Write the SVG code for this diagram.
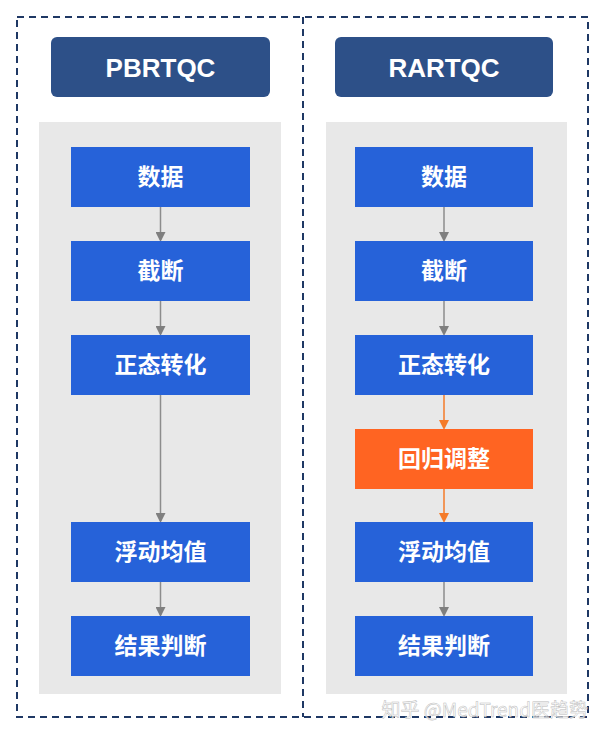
<svg xmlns="http://www.w3.org/2000/svg" width="600" height="735" viewBox="0 0 600 735">
<defs>
<style>
.frame{fill:none;stroke:#1F3864;stroke-width:2;stroke-dasharray:7,5}
.hdr{fill:#2D5088}
.hdrt{fill:#fff;font-family:"Liberation Sans",Arial,sans-serif;font-weight:bold;font-size:26px;text-anchor:middle}
.panel{fill:#E8E8E8}
.box{fill:#2662D9}
.obox{fill:#FF6422}
.bt{fill:#fff;font-family:"Noto Sans CJK SC","Liberation Sans",sans-serif;font-weight:bold;font-size:23px;text-anchor:middle}
.ln{stroke:#8C8C8C;stroke-width:1.5;fill:none}
.lo{stroke:#F47B2A;stroke-width:1.5;fill:none}
.wm{fill:#fff;fill-opacity:0.75;font-family:"Noto Sans CJK SC","Liberation Sans",sans-serif;font-size:19px;stroke:#bbb;stroke-width:0.5}
</style>
<marker id="ag" markerWidth="10" markerHeight="10" refX="8" refY="5" orient="auto" markerUnits="userSpaceOnUse"><path d="M0,0 L10,5 L0,10 z" fill="#7F7F7F"/></marker>
<marker id="ao" markerWidth="10" markerHeight="10" refX="8" refY="5" orient="auto" markerUnits="userSpaceOnUse"><path d="M0,0 L10,5 L0,10 z" fill="#F47B2A"/></marker>
</defs>
<rect width="600" height="735" fill="#fff"/>
<g id="frames">
<rect class="frame" x="17" y="17" width="571" height="700"/>
<line class="frame" x1="303" y1="17" x2="303" y2="717"/>
</g>
<g id="panels">
<rect class="panel" x="39" y="122" width="242" height="572"/>
<rect class="panel" x="326" y="122" width="241" height="572"/>
</g>
<g id="connectors">
<line class="ln" x1="160.5" y1="207" x2="160.5" y2="240" marker-end="url(#ag)"/>
<line class="ln" x1="160.5" y1="301" x2="160.5" y2="334" marker-end="url(#ag)"/>
<line class="ln" x1="160.5" y1="395" x2="160.5" y2="521" marker-end="url(#ag)"/>
<line class="ln" x1="160.5" y1="582" x2="160.5" y2="615" marker-end="url(#ag)"/>
<line class="ln" x1="444" y1="207" x2="444" y2="240" marker-end="url(#ag)"/>
<line class="ln" x1="444" y1="301" x2="444" y2="334" marker-end="url(#ag)"/>
<line class="lo" x1="444" y1="395" x2="444" y2="428" marker-end="url(#ao)"/>
<line class="lo" x1="444" y1="489" x2="444" y2="521" marker-end="url(#ao)"/>
<line class="ln" x1="444" y1="582" x2="444" y2="615" marker-end="url(#ag)"/>
</g>
<g id="hdr-left"><rect class="hdr" x="51" y="37" width="219" height="60" rx="6"/><text class="hdrt" x="160.5" y="77">PBRTQC</text></g>
<g id="hdr-right"><rect class="hdr" x="335" y="37" width="218" height="60" rx="6"/><text class="hdrt" x="444" y="77">RARTQC</text></g>
<g id="l-data"><rect class="box" x="71" y="147" width="179" height="60"/><text class="bt" x="160.5" y="185">数据</text></g>
<g id="l-trunc"><rect class="box" x="71" y="241" width="179" height="60"/><text class="bt" x="160.5" y="279">截断</text></g>
<g id="l-norm"><rect class="box" x="71" y="335" width="179" height="60"/><text class="bt" x="160.5" y="373">正态转化</text></g>
<g id="l-ma"><rect class="box" x="71" y="522" width="179" height="60"/><text class="bt" x="160.5" y="560">浮动均值</text></g>
<g id="l-res"><rect class="box" x="71" y="616" width="179" height="60"/><text class="bt" x="160.5" y="654">结果判断</text></g>
<g id="r-data"><rect class="box" x="355" y="147" width="178" height="60"/><text class="bt" x="444" y="185">数据</text></g>
<g id="r-trunc"><rect class="box" x="355" y="241" width="178" height="60"/><text class="bt" x="444" y="279">截断</text></g>
<g id="r-norm"><rect class="box" x="355" y="335" width="178" height="60"/><text class="bt" x="444" y="373">正态转化</text></g>
<g id="r-reg"><rect class="obox" x="355" y="429" width="178" height="60"/><text class="bt" x="444" y="467">回归调整</text></g>
<g id="r-ma"><rect class="box" x="355" y="522" width="178" height="60"/><text class="bt" x="444" y="560">浮动均值</text></g>
<g id="r-res"><rect class="box" x="355" y="616" width="178" height="60"/><text class="bt" x="444" y="654">结果判断</text></g>
<text class="wm" x="588" y="717" text-anchor="end">知乎 @MedTrend医趋势</text>
</svg>
